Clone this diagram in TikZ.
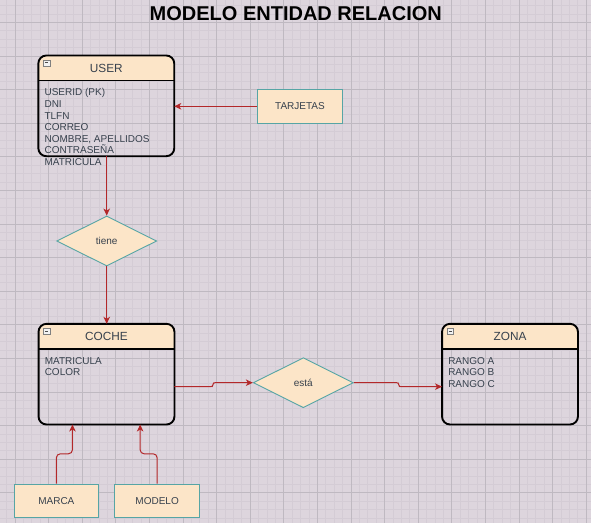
\documentclass[tikz,border=0pt]{standalone}
\usepackage{fontspec}
\setmainfont{Liberation Sans}
\usetikzlibrary{shapes.geometric,arrows.meta,calc}
\definecolor{bgcol}{HTML}{DDD5DD}
\definecolor{minorcol}{HTML}{D4CCD5}
\definecolor{majorcol}{HTML}{BFB9C1}
\definecolor{peach}{HTML}{FCE5C8}
\definecolor{tealcol}{HTML}{56A5A5}
\definecolor{relred}{HTML}{B3282A}
\definecolor{txtcol}{HTML}{37414D}
\tikzset{
  minorgrid/.style={draw=minorcol,line width=0.8pt},
  majorgrid/.style={draw=majorcol,line width=0.8pt},
  tablebox/.style={rectangle,minimum width=135.5pt,minimum height=100.3pt,inner sep=0pt},
  tableborder/.style={draw=black,line width=1.9pt,rounded corners=8pt},
  tablesep/.style={draw=black,line width=1.3pt},
  tabletitle/.style={anchor=base,inner sep=0pt,text=txtcol,font=\fontsize{11.8}{14}\selectfont},
  attrs/.style={anchor=north west,inner sep=0pt,align=left,text=txtcol,font=\fontsize{10}{11.6}\selectfont},
  entbox/.style={rectangle,draw=tealcol,fill=peach,line width=0.9pt,minimum width=84.6pt,minimum height=33.8pt,inner sep=0pt,text=txtcol,font=\fontsize{10}{12}\selectfont},
  reldiamond/.style={diamond,draw=tealcol,fill=peach,line width=0.9pt,minimum width=100pt,minimum height=50pt,inner sep=0pt,text=txtcol,font=\fontsize{10}{12}\selectfont},
  rel/.style={draw=relred,line width=1pt,-{Stealth[length=7pt,width=6.5pt,inset=2pt]}},
  iconbox/.style={draw=gray,fill=white!90!gray,line width=0.6pt},
  iconbar/.style={draw=black!70,line width=0.8pt}
}
\newcommand\ERtable[5]{%
  \node[tablebox] (#1) at (#2,#3) {};
  \begin{scope}
    \clip[rounded corners=8pt] (#1.north west) rectangle (#1.south east);
    \fill[peach] (#1.north west) rectangle ([yshift=-25.3pt]#1.north east);
  \end{scope}
  \draw[tablesep] ([yshift=-25.3pt]#1.north west) -- ([yshift=-25.3pt]#1.north east);
  \draw[tableborder] (#1.north west) rectangle (#1.south east);
  \draw[iconbox] ([xshift=5pt,yshift=-4.3pt]#1.north west) rectangle ++(6.5,6);
  \draw[iconbar] ([xshift=6.6pt,yshift=-7.3pt]#1.north west) -- ++(3.3,0);
  \node[tabletitle] (#1-title) at ([yshift=-16.85pt]#1.north) {#4};
  \node[attrs] (#1-attrs) at ([xshift=6pt,yshift=-32.1pt]#1.north west) {\strut#5};
}
\begin{document}
\begin{tikzpicture}[x=1pt,y=-1pt]
\useasboundingbox (0,0) rectangle (591,523);
\fill[bgcol] (0,0) rectangle (591,523);
\foreach \i in {0,...,70} {\draw[minorgrid] ({6.6+8.4*\i},0) -- ({6.6+8.4*\i},523);}
\foreach \i in {0,...,62} {\draw[minorgrid] (0,{5.5+8.4*\i}) -- (591,{5.5+8.4*\i});}
\foreach \i in {0,...,17} {\draw[majorgrid] ({15+33.6*\i},0) -- ({15+33.6*\i},523);}
\foreach \i in {0,...,14} {\draw[majorgrid] (0,{22.3+33.6*\i}) -- (591,{22.3+33.6*\i});}

\node[anchor=base,inner sep=0pt,font=\fontsize{20}{24}\selectfont\bfseries] (title) at (295.8,20) {MODELO ENTIDAD RELACION};

\ERtable{user}{106.3}{105.85}{USER}{USERID (PK)\\DNI\\TLFN\\CORREO\\NOMBRE, APELLIDOS\\CONTRASEÑA\\MATRICULA}
\ERtable{coche}{106.5}{374.15}{COCHE}{MATRICULA\\COLOR}
\ERtable{zona}{510}{374.15}{ZONA}{RANGO A\\RANGO B\\RANGO C}

\node[entbox] (tarj) at (300,106.3) {TARJETAS};
\node[entbox] (marca) at (56.35,500.85) {MARCA};
\node[entbox] (modelo) at (157.15,500.85) {MODELO};

\node[reldiamond] (tiene) at (106.7,241) {tiene};
\node[reldiamond] (esta) at (303.3,382.7) {está};

\draw[rel] (tarj.west) -- (tarj.west -| user.east);
\draw[rel] (tiene.north |- user.south) -- (tiene.north);
\draw[rel] (tiene.south) -- (tiene.south |- coche.north);
\draw[rel,rounded corners=2pt] ([yshift=-12.5pt]coche.east) -- ++(38.5,0) |- (esta.west);
\draw[rel,rounded corners=2pt] (esta.east) -- ++(45,0) |- ([yshift=-12.5pt]zona.west);
\draw[rel,rounded corners=4pt] (marca.north) -- ++(0,-29.7) -| ([xshift=33.9pt]coche.south west);
\draw[rel,rounded corners=4pt] (modelo.north) -- ++(0,-29.7) -| ([xshift=101.6pt]coche.south west);
\end{tikzpicture}
\end{document}
